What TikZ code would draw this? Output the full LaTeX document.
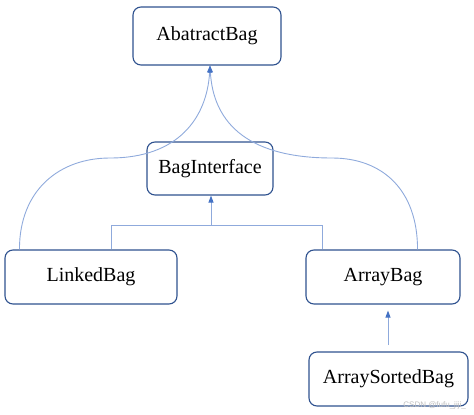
\documentclass[tikz,border=0pt]{standalone}
\usepackage{fontspec}
\setmainfont{Liberation Serif}
\newfontfamily\wmfont{Liberation Sans}
\usetikzlibrary{arrows.meta}
\definecolor{boxc}{HTML}{2F528F}
\definecolor{linec}{HTML}{8FAADC}
\definecolor{tipc}{HTML}{4472C4}
\begin{document}
\begin{tikzpicture}[x=1pt,y=-1pt,
  cls/.style={draw=boxc,line width=1.1pt,rounded corners=8pt,fill=white,
    font=\fontsize{20}{24}\selectfont,inner sep=0pt,align=center},
  conn/.style={draw=linec,line width=0.9pt},
  arr/.style={conn,-{Triangle[length=7pt,width=5pt,color=tipc]}}]
\useasboundingbox (0,0) rectangle (474,415);
\node[cls,minimum width=148pt,minimum height=58pt] (ab) at (207,36) {AbatractBag};
\node[cls,minimum width=126pt,minimum height=53pt] (bi) at (210,168.5) {BagInterface};
\node[cls,minimum width=172pt,minimum height=54pt] (lb) at (91,277) {LinkedBag};
\node[cls,minimum width=154pt,minimum height=54pt] (arb) at (383,277) {ArrayBag};
\node[cls,minimum width=159pt,minimum height=54pt] (asb) at (388.5,379) {ArraySortedBag};
% curved connectors to AbatractBag
\coordinate (abt) at ([xshift=3pt]ab.south);
\draw[arr] ([xshift=15pt]lb.north west) .. controls +(0,-60) and (60,158) .. (110,158)
  .. controls (178,158) and (207,118) .. (abt);
\draw[arr] ([xshift=-43pt]arb.north east) .. controls +(0,-60) and (382,158) .. (332,158)
  .. controls (242,158) and (213,118) .. (abt);
% tree connector to BagInterface
\coordinate (jl) at (111,225);
\coordinate (jr) at (322,225);
\coordinate (jm) at (211,225);
\draw[conn] (lb.north -| jl) -- (jl) -- (jr) -- (arb.north -| jr);
\draw[arr] (jm) -- (bi.south -| jm);
% ArraySortedBag to ArrayBag
\coordinate (as) at (388,345);
\coordinate (arbs) at ([yshift=-6pt]arb.south);
\draw[arr] (as) -- (as |- arbs);
\node[font=\wmfont\fontsize{8}{9}\selectfont,text=black!25,anchor=east,inner sep=0pt] (wm) at (466,405) {CSDN @fufu\_jiji\_};
\end{tikzpicture}
\end{document}
